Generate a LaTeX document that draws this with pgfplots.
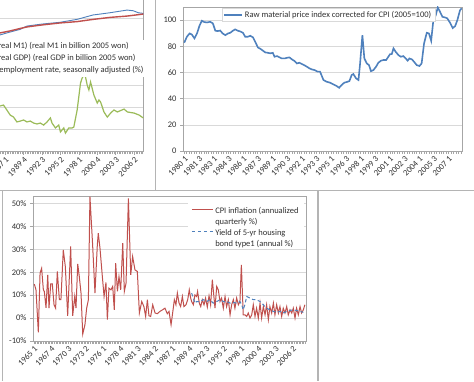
\documentclass[border=0pt]{standalone}
\usepackage{fontspec}
\setmainfont{Carlito}
\usepackage{pgfplots}
\pgfplotsset{compat=1.18}
\definecolor{xlred}{HTML}{C0504D}
\definecolor{xlblue}{HTML}{4F81BD}
\definecolor{xlgreen}{HTML}{9BBB59}
\definecolor{gridc}{HTML}{D9D9D9}
\definecolor{axc}{HTML}{A6A6A6}
\definecolor{framec}{HTML}{B4B4B4}
\definecolor{txt}{HTML}{303030}
\newcommand{\tfont}{\fontsize{8.5}{10.2}\selectfont}
\newcommand{\lfont}{\fontsize{8.5}{11.7}\selectfont}
\pgfplotsset{
  xlpanel/.style={
    overlay,
    scale only axis, anchor=south west,
    axis line style={draw=axc, line width=0.6pt},
    xtick pos=bottom, ytick pos=left,
    ymajorgrids, grid style={draw=gridc, line width=0.6pt},
    tick style={draw=axc, line width=0.5pt},
    major tick length=3pt, minor tick length=2.5pt,
    tick align=outside,
    xticklabel style={rotate=45, anchor=north east, font=\tfont, text=txt, inner sep=1pt},
    yticklabel style={font=\tfont, text=txt},
    /pgf/number format/assume math mode=true,
    legend cell align=left,
  }
}
\begin{document}
\begin{tikzpicture}[x=1pt,y=1pt]
\useasboundingbox (0pt,0pt) rectangle (474pt,381pt);
\fill[white] (0pt,0pt) rectangle (474pt,381pt);

% ---------- top-left panel ----------
\begin{axis}[xlpanel, at={(-143pt,229.3pt)}, width=286.3pt, height=155.4pt,
  xmin=-0.5, xmax=170.5, ymin=0, ymax=7, ytick={0,...,7}, yticklabels={},
  xtick={0,11,...,165},
  xticklabels={1965 1,1967 4,1970 3,1973 2,1976 1,1978 4,1981 3,1984 2,1987 1,1989 4,1992 3,1995 2,1998 1,2000 4,2003 3,2006 2},
  minor xtick={0,...,170},
  legend style={at={(1.019,0.722)}, anchor=north east, draw=none, fill=white, font=\tfont, text=txt, row sep=0.3pt, inner ysep=1pt},
  legend image code/.code={\draw[#1] plot coordinates {(0pt,0pt)(10pt,0pt)(20pt,0pt)};},
  ]
\addplot[xlblue, line width=0.9pt] coordinates {(60,4.2)(70,4.6)(78.9,5.1)(84.9,5.26)(90.9,5.39)(96.9,5.51)(101,5.66)(110,5.75)(120.8,5.83)(130.9,5.96)(140.5,6.16)(144.7,6.20)(150.6,6.26)(160.8,6.38)(164.5,6.35)(167.5,6.26)(170.5,6.23)};
\addlegendentry{ln(real M1) (real M1 in billion 2005 won)}
\addplot[xlred, line width=1.4pt] coordinates {(60,4.5)(70,4.9)(78.9,5.2)(84.9,5.35)(90.9,5.44)(96.9,5.55)(101,5.62)(110,5.71)(120.8,5.80)(130.9,5.86)(140.5,5.96)(150.6,6.05)(160.8,6.11)(170.5,6.20)};
\addlegendentry{ln(real GDP) (real GDP in billion 2005 won)}
\addplot[xlgreen, line width=1.2pt] coordinates {(78,2.4)(81,2.2)(83,2.1)(85,2.06)(87,2.10)(89,1.88)(91,1.65)(93,1.56)(95,1.34)(97,1.38)(99,1.43)(101,1.34)(103,1.38)(105,1.29)(107,1.25)(109,1.29)(111,1.20)(113,1.34)(115,1.52)(116,1.29)(118,1.07)(120,1.20)(121,0.89)(123,1.07)(124,0.84)(126,1.07)(128,1.07)(129,1.11)(131,1.88)(133,3.09)(134,3.32)(135,3.45)(136,3.36)(137,3.00)(138,2.78)(139,3.14)(141,2.55)(143,2.19)(144,2.33)(145,2.24)(147,1.79)(149,1.56)(151,1.74)(153,1.88)(155,1.79)(159,1.92)(161,1.79)(165,1.74)(168,1.65)(170.5,1.52)};
\addlegendentry{Unemployment rate, seasonally adjusted (\%)}
\end{axis}

% ---------- top-right panel ----------
\begin{axis}[xlpanel, at={(183pt,230pt)}, width=279pt, height=144pt,
  xmin=-0.5, xmax=113.5, ymin=0, ymax=110, ytick={0,20,...,100},
  xtick={0,6,...,108},
  xticklabels={1980 1,1981 3,1983 1,1984 3,1986 1,1987 3,1989 1,1990 3,1992 1,1993 3,1995 1,1996 3,1998 1,1999 3,2001 1,2002 3,2004 1,2005 3,2007 1},
  minor xtick={0,...,113},
  legend style={at={(0.903,0.99)}, anchor=north east, draw=gridc, fill=white, font=\tfont, text=txt, inner ysep=0.5pt, inner xsep=1.5pt},
  legend image code/.code={\draw[#1] plot coordinates {(0pt,0pt)(9pt,0pt)(18pt,0pt)};},
  ]
\addplot[xlblue, line width=1.6pt] coordinates {(0,82.7)(1.1,87.3)(2.2,89.8)(3.1,89)(4.2,86)(5.2,89.8)(6.3,96)(7.2,99.5)(8.2,98.5)(9.3,98.2)(10.6,98.7)(11.7,97.5)(12.7,91.9)(13.6,91.6)(14.7,92)(15.7,89.8)(16.8,88.5)(17.9,89.8)(18.8,90.3)(19.9,91.9)(20.8,92.9)(21.9,91.9)(22.9,91.3)(24,90.3)(24.9,87.3)(26,87.3)(27,88)(28.1,86.8)(29,83.5)(30.1,79.1)(31.1,78.1)(32.2,76.6)(33.1,75.3)(34.2,75)(35.2,74.6)(36.2,75)(36.9,72)(37.9,72.5)(39,71.5)(39.9,70.7)(41,70.7)(42,71.2)(43,71.5)(44,70)(45.1,68.7)(46,66.9)(47.1,67.4)(48.1,66.4)(49.2,65.4)(50.1,64.4)(51.2,63.1)(52.2,62.3)(53.3,61.8)(54.5,60.6)(55.5,60.6)(56.9,54.2)(58.2,52.9)(59.6,52.2)(60.9,50.9)(62.3,49.6)(63.3,48.3)(64.3,50.4)(65.4,52.2)(66.4,52.7)(67.5,53.4)(68.4,58)(69.1,58.8)(70.2,55.5)(71.2,54.2)(71.8,65.6)(72.8,88.5)(73.6,70.7)(74.6,66.9)(75.5,65.6)(76.3,61)(77.3,61.8)(78.4,64.4)(79.3,67.4)(80.4,69)(81.4,69.5)(82.5,69.5)(83.4,72)(84.1,74)(84.8,74)(85.5,78.4)(86.4,75.8)(87.5,73.3)(88.5,72)(89.5,72.5)(90.5,70.7)(91.3,69)(92,70.7)(93,70)(93.9,68.2)(95,65.6)(96.1,64.9)(97,66.9)(98,82.2)(99.1,90.3)(100,89.8)(100.9,84.2)(101.8,100)(102.8,103.8)(103.6,109.7)(104.5,106.4)(105.5,102.5)(106.6,102)(107.5,101.3)(108.6,98)(109.7,93.9)(110.7,95.4)(111.6,100)(112.7,107.6)(113.4,109)};
\addlegendentry{Raw material price index corrected for CPI (2005=100)}
\end{axis}

% ---------- bottom panel ----------
\begin{axis}[xlpanel, at={(33pt,40pt)}, width=273pt, height=145pt,
  xmin=-0.5, xmax=173.5, ymin=-10, ymax=53.2, ytick={-10,0,...,50},
  yticklabels={-10\%,0\%,10\%,20\%,30\%,40\%,50\%},
  xtick={0,11,...,165},
  xticklabels={1965 1,1967 4,1970 3,1973 2,1976 1,1978 4,1981 3,1984 2,1987 1,1989 4,1992 3,1995 2,1998 1,2000 4,2003 3,2006 2},
  minor xtick={0,...,173},
  legend style={at={(0.568,0.968)}, anchor=north west, draw=none, fill=white, font=\lfont, text=txt, row sep=8.3pt},
  legend image code/.code={\draw[#1] plot coordinates {(0pt,0pt)(10.5pt,0pt)(21pt,0pt)};},
  ]
\addplot[xlred, line width=1pt] coordinates {(0.35,14.8)(1.4,12.3)(2.9,-6.2)(4,19.6)(5,21.7)(6.1,12.3)(6.7,11.6)(7.8,4.5)(8.9,18.8)(9.7,4.3)(10.8,14.9)(11.8,14.9)(12.9,5.8)(13.9,4.3)(15,20.3)(16.3,8)(17.3,8)(18.8,29.7)(20.1,22.5)(21.6,1)(23.5,31.2)(24.8,1)(26.1,9.4)(26.9,4.3)(28,23.6)(29,18.1)(30.1,10.9)(31.2,-7)(32.6,-2.9)(33.7,4.3)(34.8,8)(35.8,52.9)(37.5,31.9)(39,10.9)(40.5,31.9)(41.1,37)(42.2,30.4)(43.7,18.1)(44.8,9.4)(46,15.5)(46.9,-0.7)(47.9,13)(49.2,12.3)(50.3,13.8)(51.3,3.6)(52.2,23.9)(53.3,11.6)(54.3,18.1)(55.4,12.3)(56.7,32.6)(57.7,11.6)(58.8,15.2)(60.3,52.2)(61.8,18.8)(63,26.8)(64.5,21)(66,20.3)(67.3,2.2)(68.8,7.2)(70.2,5)(71.3,0.7)(72.4,8)(73.4,1)(74.5,0.7)(75.8,5.8)(77.3,2.2)(78.7,1.9)(80.4,2.9)(82.1,3.6)(83.6,4.3)(85.1,1.9)(86.2,2.9)(87.5,-2.9)(88.5,2.2)(89.6,8)(90.6,5.8)(91.5,10.9)(92.6,6.5)(93.6,5)(94.7,9.4)(95.7,5)(97,5.8)(98.1,8)(99.1,12.3)(100,8.7)(100.6,7.2)(101.7,5.8)(102.7,10.1)(103.8,9.4)(104.4,11.6)(105.5,6.5)(106.4,5)(107.4,8)(108.5,5.8)(109.5,8.7)(110.6,4.8)(111.7,9.7)(112.7,5.8)(113.8,16.7)(114.4,12.3)(115.5,4.3)(116.6,13.8)(117.6,12.3)(118.7,7.2)(119.7,8.7)(120.8,4.3)(121.9,9.4)(122.9,5)(124,8)(125.1,1.4)(126.1,5.8)(127.2,8)(128.2,4.3)(129.3,8.7)(130.4,5.8)(131.4,7.2)(132.3,23.2)(133.5,1.4)(134.6,1.4)(135.7,0.7)(136.7,2.2)(137.8,0)(138.9,1.4)(139.9,5.8)(141,0.7)(142,4.3)(143.1,0)(144.2,6.5)(145.2,0)(146.3,5)(147.4,1.4)(148.4,5.8)(149.5,-0.7)(150.5,5)(151.6,2.2)(152.7,6.5)(153.7,1.4)(154.8,5.8)(155.9,2.2)(156.9,5)(158,0.7)(159,4.3)(160.1,2.2)(161.2,5)(162.2,1.4)(163.3,3.6)(164.4,2.2)(165.4,4.3)(166.5,0)(167.5,4.3)(168.6,1.4)(169.7,5)(170.7,2.2)(171.8,3.6)(172.8,5.8)};
\addlegendentry{\begin{tabular}[t]{@{}l@{}}CPI inflation (annualized\\quarterly \%)\end{tabular}}
\addplot[xlblue, line width=1pt, dash pattern=on 3.5pt off 2.5pt] coordinates {(100.6,10.9)(101.7,8.7)(102.7,6.5)(103.8,7.2)(105.9,7.2)(108.1,8)(110.2,7.2)(112.3,8)(114.4,6.5)(116.6,7.2)(118.7,8)(120.8,7.2)(122.9,7.2)(125.1,6.5)(127.2,6.8)(129.3,6.5)(131.4,7.2)(132.5,5.8)(133.5,3.6)(134.6,6)(135.7,9.4)(137.8,8.7)(139.9,8)(142,8)(144.2,7.2)(146.3,5.8)(148.4,4.3)(150.5,3.6)(152.7,2.9)(154.8,2.5)(156.9,2.9)(159,2.2)(161.2,2.9)(163.3,3.3)(165.4,3.6)(167.5,3.3)(169.7,2.9)(171.8,2.5)};
\addlegendentry{\begin{tabular}[t]{@{}l@{}}Yield of 5-yr housing\\bond type1 (annual \%)\end{tabular}}
\end{axis}

% ---------- panel frames ----------
\draw[framec, line width=1.5pt] (155.5pt,381pt) -- (155.5pt,191pt);
\draw[framec, line width=1.5pt] (0pt,190.5pt) -- (474pt,190.5pt);
\draw[framec, line width=1.5pt] (318pt,191pt) -- (318pt,0pt);
\draw[framec, line width=1pt] (2pt,190pt) -- (2pt,0pt);
\end{tikzpicture}
\end{document}
